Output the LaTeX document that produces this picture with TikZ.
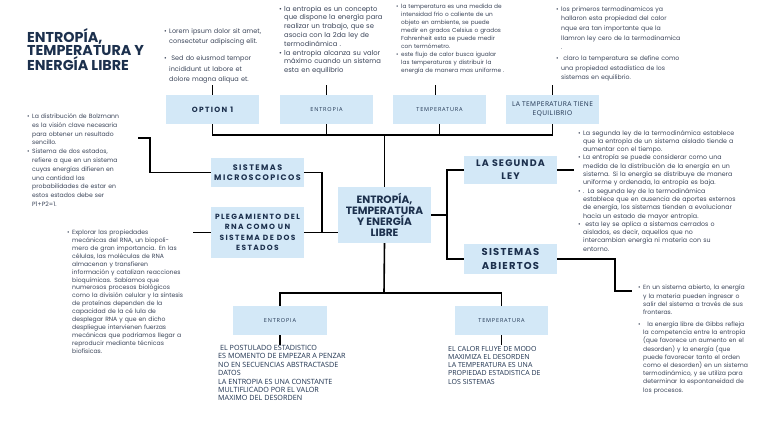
\documentclass[tikz,border=0pt]{standalone}
\usepackage{fontspec}
\setmainfont{Poppins}
\newfontfamily\boxfont[LetterSpace=18]{Poppins}
\newfontfamily\tightbox[LetterSpace=12]{Poppins}
\newfontfamily\labfont[LetterSpace=15]{Open Sans}
\newfontfamily\eqfont[LetterSpace=6]{Open Sans}
\newfontfamily\capsfont{Open Sans}
\usepackage{xcolor}
\usepackage{tikz}
\usetikzlibrary{arrows.meta,positioning,shapes,calc}

\definecolor{boxblue}{RGB}{211,232,247}
\definecolor{navy}{RGB}{28,48,77}
\definecolor{bodygrey}{RGB}{58,68,88}
\newcommand{\bl}[1][0pt]{\par\vskip#1\relax\hangindent=5pt\hangafter=1\noindent\makebox[5pt][l]{\textbullet}}

\tikzset{
  box/.style={fill=boxblue, inner sep=0pt, minimum width=93pt, minimum height=29pt, text=navy, align=center},
  conn/.style={line width=1.6pt, black},
  txt/.style={anchor=north west, inner sep=0pt, align=left, text=bodygrey},
}

\begin{document}
\begin{tikzpicture}[x=1pt,y=-1pt]
\useasboundingbox (0,0) rectangle (768,431);

\node[anchor=north west, inner sep=0pt, align=left, text=navy, font=\bfseries\fontsize{14.3}{13}\selectfont] (title) at (27,28) {ENTROPÍA,\\TEMPERATURA Y\\ENERGÍA LIBRE};

\node[box, font=\boxfont\bfseries\fontsize{7.5}{10}\selectfont] (opt) at (212.5,109.5) {OPTION 1};
\node[box, font=\labfont\fontsize{5.5}{7}\selectfont] (ent) at (326.5,109.5) {ENTROPIA};
\node[box, font=\labfont\fontsize{5.5}{7}\selectfont] (temp) at (439.5,109.5) {TEMPERATURA};
\node[box, font=\eqfont\fontsize{6.6}{9}\selectfont] (teq) at (552.5,109.5) {LA TEMPERATURA TIENE\\EQUILIBRIO};

\node[box, font=\boxfont\bfseries\fontsize{8}{10.5}\selectfont] (micro) at (257.5,172.5) {SISTEMAS\\MICROSCOPICOS};
\node[box, minimum height=51pt, font=\boxfont\bfseries\fontsize{7.5}{10.5}\selectfont] (pleg) at (257.5,232.5) {PLEGAMIENTO DEL\\RNA COMO UN\\SISTEMA DE DOS\\ESTADOS};
\node[box, minimum height=56pt, font=\bfseries\fontsize{10.6}{11}\selectfont] (main) at (384.5,215) {ENTROPÍA,\\TEMPERATURA\\Y ENERGÍA\\LIBRE};
\node[box, minimum height=28pt, font=\tightbox\bfseries\fontsize{9.5}{13}\selectfont] (seg) at (510.5,170) {LA SEGUNDA\\LEY};
\node[box, minimum height=30pt, font=\tightbox\bfseries\fontsize{10}{13.5}\selectfont] (abi) at (510.5,259) {SISTEMAS\\ABIERTOS};
\node[box, minimum width=94pt, font=\labfont\fontsize{5.5}{7}\selectfont] (entb) at (280,320.5) {ENTROPIA};
\node[box, font=\labfont\fontsize{5.5}{7}\selectfont] (tempb) at (501.5,320.5) {TEMPERATURA};

\node[txt, text width=100pt, font=\fontsize{6.5}{10.3}\selectfont] (lorem) at (164,23) {\bl Lorem ipsum dolor sit amet,\newline consectetur adipiscing elit.
\bl[6.7pt] Sed do eiusmod tempor\newline incididunt ut labore et\newline dolore magna aliqua et.\par};
\node[txt, text width=115pt, font=\fontsize{6.8}{8.8}\selectfont] (entt) at (279,2) {\bl la entropia es un concepto\newline que dispone la energía para\newline realizar un trabajo, que se\newline asocia con la 2da ley de\newline termodinámica .
\bl la entropia alcanza su valor\newline máximo cuando un sistema\newline esta en equilibrio\par};
\node[txt, text width=125pt, font=\fontsize{5.8}{8}\selectfont] (tempt) at (396,0.5) {\bl la temperatura es una  medida de\newline intensidad frío o caliente de un\newline objeto en ambiente, se puede\newline medir en grados Celsius o grados\newline Fahrenheit esta se puede medir\newline con termómetro.
\bl este flujo de calor busca igualar\newline las temperaturas y distribuir la\newline energía de manera mas uniforme .\par};
\node[txt, text width=135pt, font=\fontsize{6.2}{9.6}\selectfont] (rtop) at (556,1.5) {\bl los primeros termodinamicos ya\newline hallaron esta propiedad del calor\newline nque era tan importante que la\newline llamron ley cero de la termodinamica\newline .
\bl[1.5pt] claro la temperatura se define como\newline una propiedad estadística de los\newline sistemas en equilibrio.\par};
\node[txt, text width=95pt, font=\fontsize{6.1}{8.8}\selectfont] (bolz) at (27,109.5) {\bl La distribución de Bolzmann\newline es la visión clave necesaria\newline para obtener un resultado\newline sencillo.
\bl Sistema de dos estados,\newline refiere a que en un sistema\newline cuyas energías difieren en\newline una cantidad las\newline probabilidades de estar en\newline estos estados debe ser\newline P1+P2=1.\par};
\node[txt, text width=120pt, font=\fontsize{6.1}{7.9}\selectfont] (rna) at (67,226.5) {\bl Explorar las propiedades\newline mecánicas del RNA, un biopoli-\newline mero de gran importancia. En las\newline células, las moléculas de RNA\newline almacenan y transfieren\newline información y catalizan reacciones\newline bioquímicas. Sabíamos que\newline numerosos procesos biológicos\newline como la división celular y la síntesis\newline de proteínas dependen de la\newline capacidad de la cé lula de\newline desplegar RNA y que en dicho\newline despliegue intervienen fuerzas\newline mecánicas que podríamos llegar a\newline reproducir mediante técnicas\newline biofísicas.\par};
\node[txt, text width=185pt, font=\fontsize{6.3}{8.3}\selectfont] (segt) at (578,126.5) {\bl La segunda ley de la termodinámica establece\newline que la entropía de un sistema aislado tiende a\newline aumentar con el tiempo.
\bl La entropía se puede considerar como una\newline medida de la distribución de la energía en un\newline sistema. Si la energía se distribuye de manera\newline uniforme y ordenada, la entropía es baja.
\bl . La segunda ley de la termodinámica\newline establece que en ausencia de aportes externos\newline de energía, los sistemas tienden a evolucionar\newline hacia un estado de mayor entropía.
\bl \ esta ley se aplica a sistemas cerrados o\newline aislados, es decir, aquellos que no\newline intercambian energía ni materia con su\newline entorno.\par};
\node[txt, text width=125pt, font=\fontsize{6.1}{8.2}\selectfont] (abit) at (638,281.5) {\bl En un sistema abierto, la energía\newline y la materia pueden ingresar o\newline salir del sistema a través de sus\newline fronteras.
\bl[3.8pt] \ la energía libre de Gibbs refleja\newline la competencia entre la entropía\newline (que favorece un aumento en el\newline desorden) y la energía (que\newline puede favorecer tanto el orden\newline como el desorden) en un sistema\newline termodinámico, y se utiliza para\newline determinar la espontaneidad de\newline los procesos.\par};
\node[anchor=north west, inner sep=0pt, align=left, text=navy, font=\capsfont\fontsize{7.2}{8.4}\selectfont] (postu) at (218,345) {\ EL POSTULADO ESTADISTICO\\ES MOMENTO DE EMPEZAR A PENZAR\\NO EN SECUENCIAS ABSTRACTASDE\\DATOS\\LA ENTROPIA ES UNA CONSTANTE\\MULTIFLICADO POR EL VALOR\\MAXIMO DEL DESORDEN};
\node[anchor=north west, inner sep=0pt, align=left, text=navy, font=\capsfont\fontsize{7}{8.2}\selectfont] (calor) at (448,346) {EL CALOR FLUYE DE MODO\\MAXIMIZA EL DESORDEN\\LA TEMPERATURA ES UNA\\PROPIEDAD ESTADISTICA DE\\LOS SISTEMAS};

\coordinate (topbus) at (384,135);
\coordinate (bolzend) at (138,138);
\coordinate (ljoin) at (322,232.5);
\coordinate (rnaend) at (193,232.5);
\coordinate (rjoin) at (447,215);
\coordinate (segend) at (574,170);
\coordinate (abiend) at (632,291);
\coordinate (botbus) at (384,293);

\draw[conn] (opt.south) |- (topbus) -| (teq.south);
\draw[conn] (ent.south) -- (ent.south |- topbus);
\draw[conn] (temp.south) -- (temp.south |- topbus);
\draw[conn] (main.north) -- (main.north |- topbus);
\draw[conn] (opt.north) -- ++(0,-10);
\draw[conn] (ent.north) -- ++(0,-10);
\draw[conn] ([xshift=-4pt]temp.north) -- ++(0,-10);
\draw[conn] (teq.north) -- ++(0,-10);
\draw[conn] (micro.west) -| (150,138) -- (bolzend);
\draw[conn] (micro.east) -| (ljoin);
\draw[conn] (pleg.east) -- (pleg.east -| main.west);
\draw[conn] (pleg.west) -- (rnaend);
\draw[conn] (main.east) -- (rjoin);
\draw[conn] (seg.west) -| (rjoin) |- (abi.west);
\draw[conn] (seg.east) -- (segend);
\draw[conn] (abi.east) -| ([xshift=-17pt]abiend) -- (abiend);
\draw[conn] (main.south) -- (botbus);
\draw[conn] (entb.north) |- (botbus) -| (tempb.north);
\draw[conn] (entb.south) -- ++(0,10);
\draw[conn] (tempb.south) -- ++(0,10);
\end{tikzpicture}
\end{document}
